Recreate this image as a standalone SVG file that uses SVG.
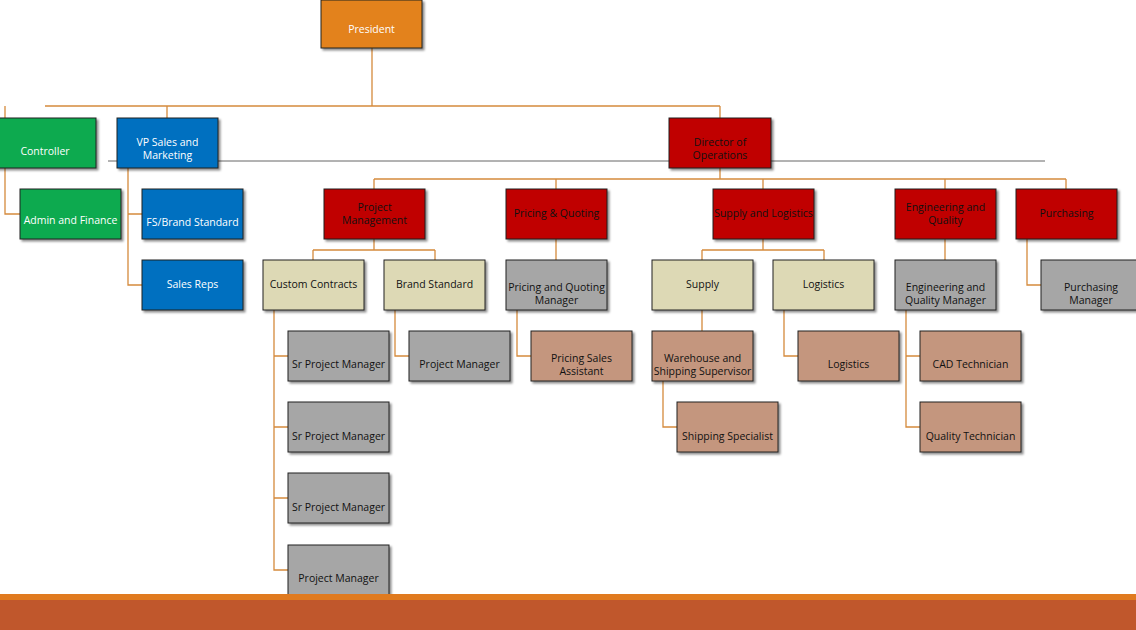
<svg xmlns="http://www.w3.org/2000/svg" width="1136" height="630" viewBox="0 0 1136 630">
<defs>
<filter id="sh" x="-10%" y="-10%" width="130%" height="140%"><feDropShadow dx="2" dy="2" stdDeviation="1.2" flood-color="#000" flood-opacity="0.45"/></filter>
<style>
rect.n{stroke:#222;stroke-width:1;filter:url(#sh)}
.or{fill:#E3821A}.gr{fill:#0DAA4F}.bl{fill:#0070C0}.rd{fill:#C00000}.tn{fill:#DDD9B5}.gy{fill:#A6A6A6}.br{fill:#C4967E}
text{font-family:"Open Sans","Liberation Sans",sans-serif;font-size:10.5px;text-anchor:middle;fill:#111}
text.w{fill:#fff}
#connectors path{fill:none;stroke:#D58A3C;stroke-width:1.3}
</style>
</defs>
<rect width="1136" height="630" fill="#fff"/>
<line x1="108" y1="161" x2="1045" y2="161" stroke="#666" stroke-width="1"/>
<g id="connectors">
<path d="M372 48V106M45 106H720M5 106V118M167 106V118M720 106V118"/>
<path d="M5 168V214H20"/>
<path d="M128 168V285H142M128 214H142"/>
<path d="M720 168V179M374 179H1066M374 179V189M556 179V189M763 179V189M945 179V189M1066 179V189"/>
<path d="M374 239V250M313 250H435M313 250V260M435 250V260"/>
<path d="M274 310V570H288M274 356H288M274 427H288M274 498H288"/>
<path d="M395 310V356H409"/>
<path d="M556 239V260M517 310V356H531"/>
<path d="M763 239V250M702 250H824M702 250V260M824 250V260"/>
<path d="M702 310V331M663 381V427H677M784 310V356H798"/>
<path d="M945 239V260M906 310V427H920M906 356H920"/>
<path d="M1027 239V285H1041"/>
</g>
<g id="president"><rect class="n or" x="321" y="0" width="101" height="48"/><text class="w" x="371.5" y="33">President</text></g>
<g id="controller"><rect class="n gr" x="-5" y="118" width="101" height="50"/><text class="w" x="45" y="155">Controller</text></g>
<g id="vp"><rect class="n bl" x="117" y="118" width="101" height="50"/><text class="w" x="167.5" y="146">VP Sales and</text><text class="w" x="167.5" y="159">Marketing</text></g>
<g id="director"><rect class="n rd" x="669" y="118" width="102" height="50"/><text x="720" y="146">Director of</text><text x="720" y="159">Operations</text></g>
<g id="admin"><rect class="n gr" x="20" y="189" width="101" height="50"/><text class="w" x="70.5" y="224">Admin and Finance</text></g>
<g id="fs"><rect class="n bl" x="142" y="189" width="101" height="50"/><text class="w" x="192.5" y="226">FS/Brand Standard</text></g>
<g id="salesreps"><rect class="n bl" x="142" y="260" width="101" height="50"/><text class="w" x="192.5" y="288">Sales Reps</text></g>
<g id="pm"><rect class="n rd" x="324" y="189" width="101" height="50"/><text x="374.5" y="211">Project</text><text x="374.5" y="224">Management</text></g>
<g id="pricing"><rect class="n rd" x="506" y="189" width="101" height="50"/><text x="556.5" y="217">Pricing &amp; Quoting</text></g>
<g id="supplylog"><rect class="n rd" x="713" y="189" width="101" height="50"/><text x="763.5" y="217">Supply and Logistics</text></g>
<g id="engq"><rect class="n rd" x="895" y="189" width="101" height="50"/><text x="945.5" y="211">Engineering and</text><text x="945.5" y="224">Quality</text></g>
<g id="purchasing"><rect class="n rd" x="1016" y="189" width="101" height="50"/><text x="1066.5" y="217">Purchasing</text></g>
<g id="custom"><rect class="n tn" x="263" y="260" width="101" height="50"/><text x="313.5" y="288">Custom Contracts</text></g>
<g id="brand"><rect class="n tn" x="384" y="260" width="101" height="50"/><text x="434.5" y="288">Brand Standard</text></g>
<g id="pqm"><rect class="n gy" x="506" y="260" width="101" height="50"/><text x="556.5" y="291">Pricing and Quoting</text><text x="556.5" y="304">Manager</text></g>
<g id="supply"><rect class="n tn" x="652" y="260" width="101" height="50"/><text x="702.5" y="288">Supply</text></g>
<g id="logistics"><rect class="n tn" x="773" y="260" width="101" height="50"/><text x="823.5" y="288">Logistics</text></g>
<g id="eqm"><rect class="n gy" x="895" y="260" width="101" height="50"/><text x="945.5" y="291">Engineering and</text><text x="945.5" y="304">Quality Manager</text></g>
<g id="purchmgr"><rect class="n gy" x="1041" y="260" width="101" height="50"/><text x="1091" y="291">Purchasing</text><text x="1091" y="304">Manager</text></g>
<g id="srpm1"><rect class="n gy" x="288" y="331" width="101" height="50"/><text x="338.5" y="368">Sr Project Manager</text></g>
<g id="srpm2"><rect class="n gy" x="288" y="402" width="101" height="50"/><text x="338.5" y="440">Sr Project Manager</text></g>
<g id="srpm3"><rect class="n gy" x="288" y="473" width="101" height="50"/><text x="338.5" y="511">Sr Project Manager</text></g>
<g id="pm2"><rect class="n gy" x="288" y="545" width="101" height="50"/><text x="338.5" y="582">Project Manager</text></g>
<g id="pm1"><rect class="n gy" x="409" y="331" width="101" height="50"/><text x="459.5" y="368">Project Manager</text></g>
<g id="psa"><rect class="n br" x="531" y="331" width="101" height="50"/><text x="581.5" y="362">Pricing Sales</text><text x="581.5" y="375">Assistant</text></g>
<g id="warehouse"><rect class="n br" x="652" y="331" width="101" height="50"/><text x="702.5" y="362">Warehouse and</text><text x="702.5" y="375">Shipping Supervisor</text></g>
<g id="shipspec"><rect class="n br" x="677" y="402" width="101" height="50"/><text x="727.5" y="440">Shipping Specialist</text></g>
<g id="logistics2"><rect class="n br" x="798" y="331" width="101" height="50"/><text x="848.5" y="368">Logistics</text></g>
<g id="cad"><rect class="n br" x="920" y="331" width="101" height="50"/><text x="970.5" y="368">CAD Technician</text></g>
<g id="qt"><rect class="n br" x="920" y="402" width="101" height="50"/><text x="970.5" y="440">Quality Technician</text></g>
<rect x="0" y="594" width="1136" height="6" fill="#E07A1F"/>
<rect x="0" y="600" width="1136" height="30" fill="#C0572C"/>
</svg>
